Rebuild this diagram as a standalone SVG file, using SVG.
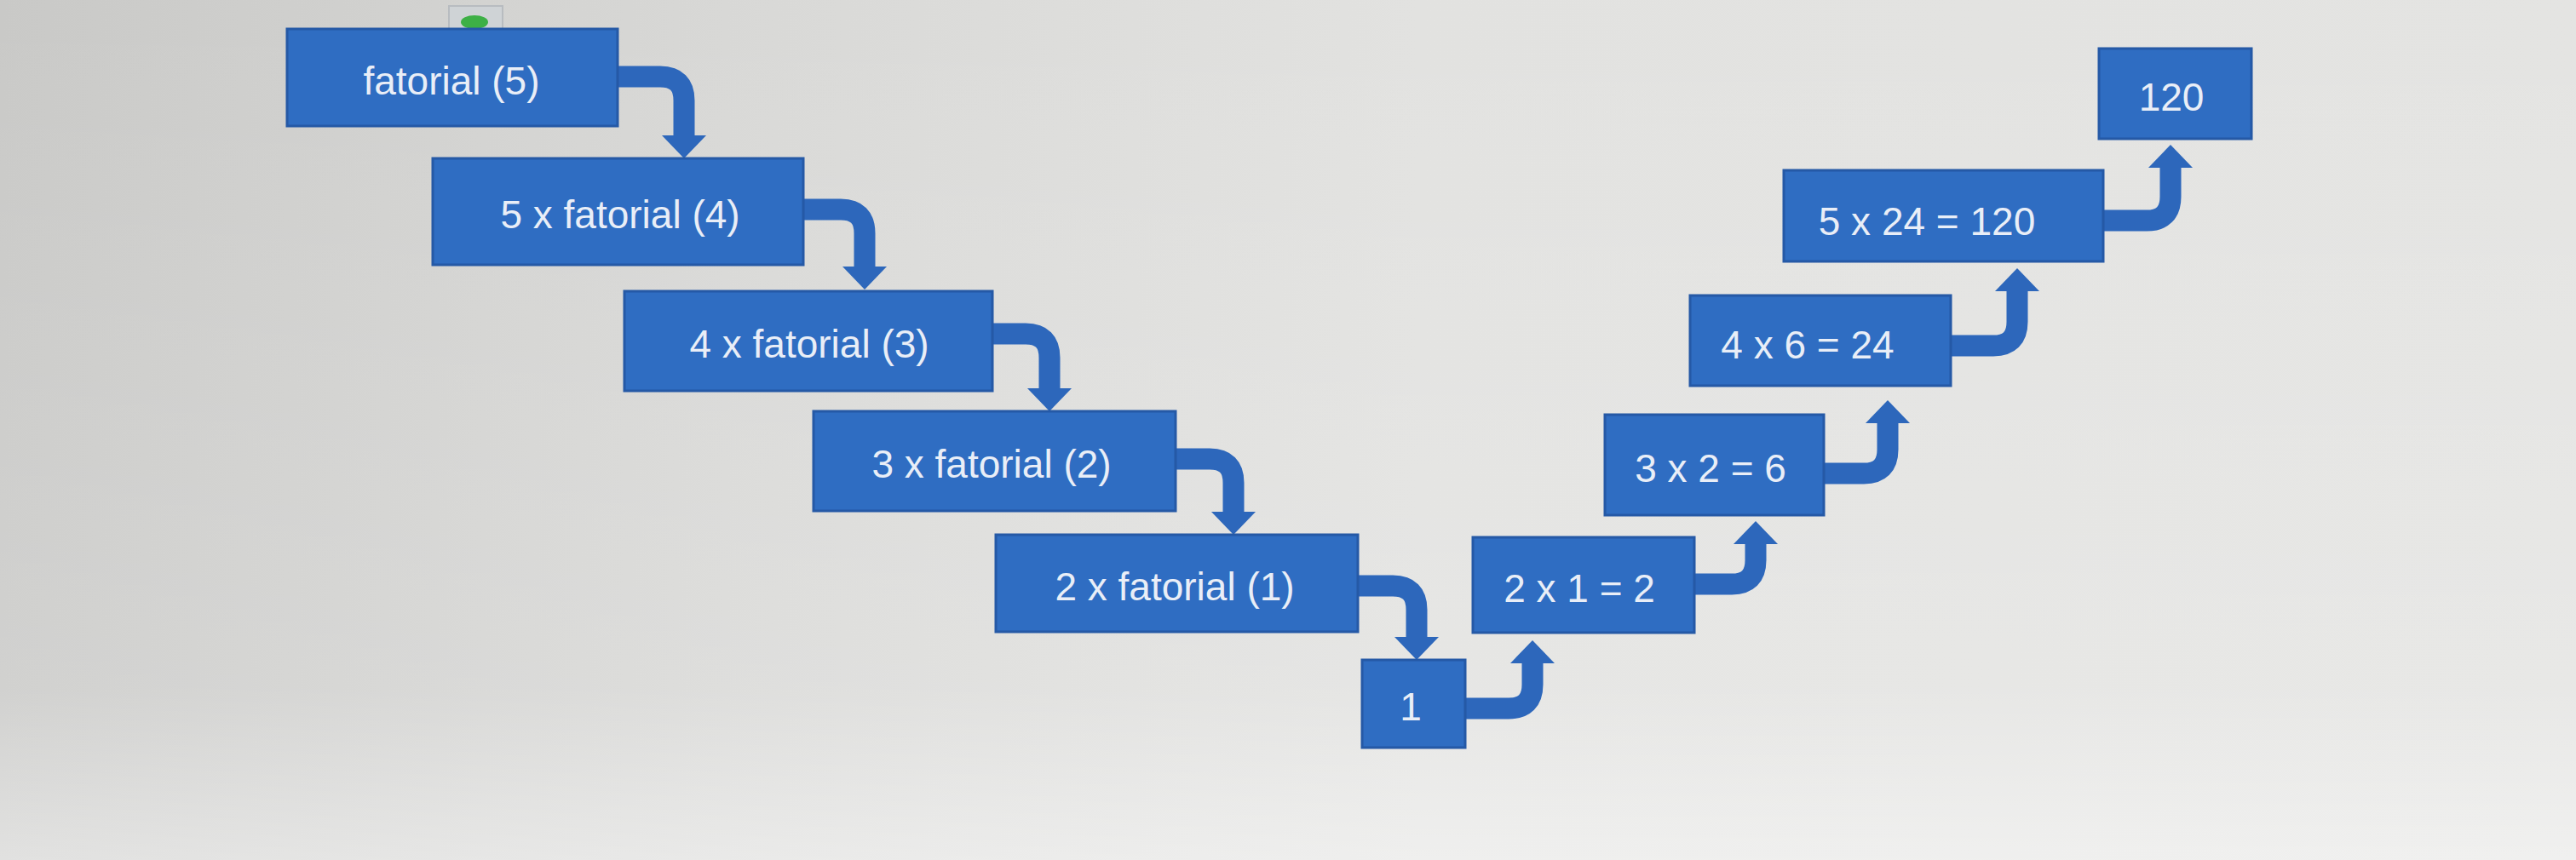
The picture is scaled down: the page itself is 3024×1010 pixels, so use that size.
<svg xmlns="http://www.w3.org/2000/svg" width="3024" height="1010" viewBox="0 0 3024 1010">
<defs>
<linearGradient id="bgh" x1="0" y1="0" x2="1" y2="0">
<stop offset="0" stop-color="#c9c9c7"/>
<stop offset="0.3" stop-color="#d9d9d7"/>
<stop offset="0.55" stop-color="#e2e2e0"/>
<stop offset="1" stop-color="#e4e4e2"/>
</linearGradient>
<linearGradient id="bgv" x1="0" y1="0" x2="0" y2="1">
<stop offset="0" stop-color="#ffffff" stop-opacity="0"/>
<stop offset="0.8" stop-color="#ffffff" stop-opacity="0.15"/>
<stop offset="1" stop-color="#ffffff" stop-opacity="0.45"/>
</linearGradient>
<style>
.box{fill:#2f6dc2;stroke:#2559a6;stroke-width:3}
.lbl{font-family:"Liberation Sans",Arial,sans-serif;font-size:46px;fill:#e9eef7;text-anchor:middle}
.shaft{fill:none;stroke:#2d67bb;stroke-width:25;stroke-linecap:butt;stroke-linejoin:round}
.head{fill:#2d67bb}
</style>
</defs>
<rect x="0" y="0" width="3024" height="1010" fill="url(#bgh)"/>
<rect x="0" y="0" width="3024" height="1010" fill="url(#bgv)"/>
<g id="handle">
<rect x="527" y="7" width="63" height="28" fill="#cfd3d6" stroke="#b8bcc0" stroke-width="2"/>
<ellipse cx="557" cy="26" rx="16" ry="8" fill="#3db046"/>
</g>
<g id="connectors">
<path class="shaft" d="M725,90 H775 Q803,90 803,118 V162"/>
<polygon class="head" points="777,159 829,159 803,186"/>
<path class="shaft" d="M943,246 H987 Q1015,246 1015,274 V316"/>
<polygon class="head" points="989,313 1041,313 1015,340"/>
<path class="shaft" d="M1165,392 H1204 Q1232,392 1232,420 V459"/>
<polygon class="head" points="1206,456 1258,456 1232,483"/>
<path class="shaft" d="M1380,539 H1420 Q1448,539 1448,567 V604"/>
<polygon class="head" points="1422,601 1474,601 1448,628"/>
<path class="shaft" d="M1594,688 H1635 Q1663,688 1663,716 V751"/>
<polygon class="head" points="1637,748 1689,748 1663,775"/>
<path class="shaft" d="M1720,832 H1771 Q1799,832 1799,804 V776"/>
<polygon class="head" points="1773,779 1825,779 1799,752"/>
<path class="shaft" d="M1989,686 H2033 Q2061,686 2061,658 V636"/>
<polygon class="head" points="2035,639 2087,639 2061,612"/>
<path class="shaft" d="M2141,556 H2188 Q2216,556 2216,528 V494"/>
<polygon class="head" points="2190,497 2242,497 2216,470"/>
<path class="shaft" d="M2290,406 H2340 Q2368,406 2368,378 V339"/>
<polygon class="head" points="2342,342 2394,342 2368,315"/>
<path class="shaft" d="M2469,259 H2520 Q2548,259 2548,231 V194"/>
<polygon class="head" points="2522,197 2574,197 2548,170"/>
</g>
<g id="n1"><rect class="box" x="337" y="34" width="388" height="114"/><text class="lbl" x="530" y="111">fatorial (5)</text></g>
<g id="n2"><rect class="box" x="508" y="186" width="435" height="125"/><text class="lbl" x="728" y="268">5 x fatorial (4)</text></g>
<g id="n3"><rect class="box" x="733" y="342" width="432" height="117"/><text class="lbl" x="950" y="420">4 x fatorial (3)</text></g>
<g id="n4"><rect class="box" x="955" y="483" width="425" height="117"/><text class="lbl" x="1164" y="561">3 x fatorial (2)</text></g>
<g id="n5"><rect class="box" x="1169" y="628" width="425" height="114"/><text class="lbl" x="1379" y="705">2 x fatorial (1)</text></g>
<g id="n6"><rect class="box" x="1599" y="775" width="121" height="103"/><text class="lbl" x="1656" y="846">1</text></g>
<g id="n7"><rect class="box" x="1729" y="631" width="260" height="112"/><text class="lbl" x="1854" y="707">2 x 1 = 2</text></g>
<g id="n8"><rect class="box" x="1884" y="487" width="257" height="118"/><text class="lbl" x="2008" y="566">3 x 2 = 6</text></g>
<g id="n9"><rect class="box" x="1984" y="347" width="306" height="106"/><text class="lbl" x="2122" y="421">4 x 6 = 24</text></g>
<g id="n10"><rect class="box" x="2094" y="200" width="375" height="107"/><text class="lbl" x="2262" y="276">5 x 24 = 120</text></g>
<g id="n11"><rect class="box" x="2464" y="57" width="179" height="106"/><text class="lbl" x="2549" y="130">120</text></g>
</svg>
